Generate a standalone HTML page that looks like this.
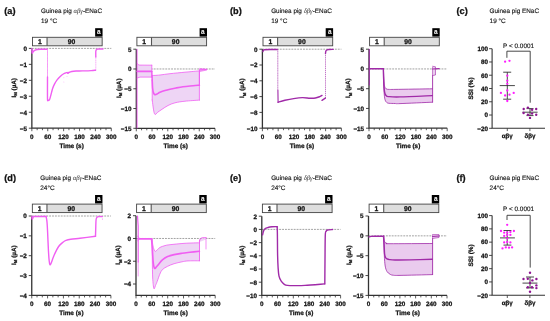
<!DOCTYPE html>
<html><head><meta charset="utf-8"><style>
html,body{margin:0;padding:0;background:#fff;}
svg{display:block;will-change:transform;}
text{font-family:"Liberation Sans", sans-serif;text-rendering:geometricPrecision;}
</style></head><body>
<svg width="550" height="321" viewBox="0 0 550 321" xmlns="http://www.w3.org/2000/svg">
<rect width="550" height="321" fill="#fff"/>
<text x="4.3" y="13.7" font-size="9.2" font-weight="bold" text-anchor="start" fill="#141414" stroke="#141414" stroke-width="0.26" >(a)</text>
<text x="41" y="13.2" font-size="6.35" fill="#141414" stroke="#141414" stroke-width="0.14">Guinea pig <tspan font-family="Liberation Serif" font-style="italic" font-size="6.7" fill="#484848" stroke="#484848" stroke-width="0.05">αβγ</tspan>-ENaC</text>
<text x="41" y="22.8" font-size="6.4" font-weight="normal" text-anchor="start" fill="#141414" stroke="#141414" stroke-width="0.14" >19 °C</text>
<text x="230" y="13.7" font-size="9.2" font-weight="bold" text-anchor="start" fill="#141414" stroke="#141414" stroke-width="0.26" >(b)</text>
<text x="271.2" y="13.2" font-size="6.35" fill="#141414" stroke="#141414" stroke-width="0.14">Guinea pig <tspan font-family="Liberation Serif" font-style="italic" font-size="6.7" fill="#484848" stroke="#484848" stroke-width="0.05">δβγ</tspan>-ENaC</text>
<text x="271.2" y="22.8" font-size="6.4" font-weight="normal" text-anchor="start" fill="#141414" stroke="#141414" stroke-width="0.14" >19 °C</text>
<text x="456.5" y="13.7" font-size="9.2" font-weight="bold" text-anchor="start" fill="#141414" stroke="#141414" stroke-width="0.26" >(c)</text>
<text x="489.6" y="13.2" font-size="6.35" fill="#141414" stroke="#141414" stroke-width="0.14">Guinea pig ENaC</text>
<text x="489.6" y="22.8" font-size="6.4" font-weight="normal" text-anchor="start" fill="#141414" stroke="#141414" stroke-width="0.14" >19 °C</text>
<text x="4.3" y="180.5" font-size="9.2" font-weight="bold" text-anchor="start" fill="#141414" stroke="#141414" stroke-width="0.26" >(d)</text>
<text x="40.3" y="180" font-size="6.35" fill="#141414" stroke="#141414" stroke-width="0.14">Guinea pig <tspan font-family="Liberation Serif" font-style="italic" font-size="6.7" fill="#484848" stroke="#484848" stroke-width="0.05">αβγ</tspan>-ENaC</text>
<text x="40.3" y="189.6" font-size="6.4" font-weight="normal" text-anchor="start" fill="#141414" stroke="#141414" stroke-width="0.14" >24°C</text>
<text x="230" y="180.5" font-size="9.2" font-weight="bold" text-anchor="start" fill="#141414" stroke="#141414" stroke-width="0.26" >(e)</text>
<text x="271.2" y="180" font-size="6.35" fill="#141414" stroke="#141414" stroke-width="0.14">Guinea pig <tspan font-family="Liberation Serif" font-style="italic" font-size="6.7" fill="#484848" stroke="#484848" stroke-width="0.05">δβγ</tspan>-ENaC</text>
<text x="271.2" y="189.6" font-size="6.4" font-weight="normal" text-anchor="start" fill="#141414" stroke="#141414" stroke-width="0.14" >24°C</text>
<text x="456.5" y="180.5" font-size="9.2" font-weight="bold" text-anchor="start" fill="#141414" stroke="#141414" stroke-width="0.26" >(f)</text>
<text x="489.6" y="180" font-size="6.35" fill="#141414" stroke="#141414" stroke-width="0.14">Guinea pig ENaC</text>
<text x="489.6" y="189.6" font-size="6.4" font-weight="normal" text-anchor="start" fill="#141414" stroke="#141414" stroke-width="0.14" >24°C</text>
<line x1="31.85" y1="48.4" x2="111.3" y2="48.4" stroke="#8c8c8c" stroke-width="0.8" stroke-dasharray="1.9,1.0"/>
<path d="M31.85,48.4 L31.85,128.2 L111.3,128.2" fill="none" stroke="#333333" stroke-width="1.3"/>
<line x1="28.85" y1="48.4" x2="31.85" y2="48.4" stroke="#333333" stroke-width="0.9"/>
<text x="26.95" y="50.7" font-size="6.3" font-weight="bold" text-anchor="end" fill="#141414" stroke="#141414" stroke-width="0.26" >0</text>
<line x1="28.85" y1="64.36" x2="31.85" y2="64.36" stroke="#333333" stroke-width="0.9"/>
<text x="26.95" y="66.66" font-size="6.3" font-weight="bold" text-anchor="end" fill="#141414" stroke="#141414" stroke-width="0.26" >−1</text>
<line x1="28.85" y1="80.32" x2="31.85" y2="80.32" stroke="#333333" stroke-width="0.9"/>
<text x="26.95" y="82.62" font-size="6.3" font-weight="bold" text-anchor="end" fill="#141414" stroke="#141414" stroke-width="0.26" >−2</text>
<line x1="28.85" y1="96.28" x2="31.85" y2="96.28" stroke="#333333" stroke-width="0.9"/>
<text x="26.95" y="98.58" font-size="6.3" font-weight="bold" text-anchor="end" fill="#141414" stroke="#141414" stroke-width="0.26" >−3</text>
<line x1="28.85" y1="112.24" x2="31.85" y2="112.24" stroke="#333333" stroke-width="0.9"/>
<text x="26.95" y="114.54" font-size="6.3" font-weight="bold" text-anchor="end" fill="#141414" stroke="#141414" stroke-width="0.26" >−4</text>
<line x1="28.85" y1="128.2" x2="31.85" y2="128.2" stroke="#333333" stroke-width="0.9"/>
<text x="26.95" y="130.5" font-size="6.3" font-weight="bold" text-anchor="end" fill="#141414" stroke="#141414" stroke-width="0.26" >−5</text>
<line x1="31.85" y1="128.2" x2="31.85" y2="131.2" stroke="#333333" stroke-width="0.8"/>
<text x="31.85" y="138.9" font-size="6.3" font-weight="bold" text-anchor="middle" fill="#141414" stroke="#141414" stroke-width="0.26" >0</text>
<line x1="37.15" y1="128.2" x2="37.15" y2="130.2" stroke="#333333" stroke-width="0.8"/>
<line x1="42.44" y1="128.2" x2="42.44" y2="130.2" stroke="#333333" stroke-width="0.8"/>
<line x1="47.74" y1="128.2" x2="47.74" y2="131.2" stroke="#333333" stroke-width="0.8"/>
<text x="47.74" y="138.9" font-size="6.3" font-weight="bold" text-anchor="middle" fill="#141414" stroke="#141414" stroke-width="0.26" >60</text>
<line x1="53.04" y1="128.2" x2="53.04" y2="130.2" stroke="#333333" stroke-width="0.8"/>
<line x1="58.33" y1="128.2" x2="58.33" y2="130.2" stroke="#333333" stroke-width="0.8"/>
<line x1="63.63" y1="128.2" x2="63.63" y2="131.2" stroke="#333333" stroke-width="0.8"/>
<text x="63.63" y="138.9" font-size="6.3" font-weight="bold" text-anchor="middle" fill="#141414" stroke="#141414" stroke-width="0.26" >120</text>
<line x1="68.93" y1="128.2" x2="68.93" y2="130.2" stroke="#333333" stroke-width="0.8"/>
<line x1="74.22" y1="128.2" x2="74.22" y2="130.2" stroke="#333333" stroke-width="0.8"/>
<line x1="79.52" y1="128.2" x2="79.52" y2="131.2" stroke="#333333" stroke-width="0.8"/>
<text x="79.52" y="138.9" font-size="6.3" font-weight="bold" text-anchor="middle" fill="#141414" stroke="#141414" stroke-width="0.26" >180</text>
<line x1="84.82" y1="128.2" x2="84.82" y2="130.2" stroke="#333333" stroke-width="0.8"/>
<line x1="90.11" y1="128.2" x2="90.11" y2="130.2" stroke="#333333" stroke-width="0.8"/>
<line x1="95.41" y1="128.2" x2="95.41" y2="131.2" stroke="#333333" stroke-width="0.8"/>
<text x="95.41" y="138.9" font-size="6.3" font-weight="bold" text-anchor="middle" fill="#141414" stroke="#141414" stroke-width="0.26" >240</text>
<line x1="100.71" y1="128.2" x2="100.71" y2="130.2" stroke="#333333" stroke-width="0.8"/>
<line x1="106" y1="128.2" x2="106" y2="130.2" stroke="#333333" stroke-width="0.8"/>
<line x1="111.3" y1="128.2" x2="111.3" y2="131.2" stroke="#333333" stroke-width="0.8"/>
<text x="111.3" y="138.9" font-size="6.3" font-weight="bold" text-anchor="middle" fill="#141414" stroke="#141414" stroke-width="0.26" >300</text>
<text x="71.58" y="147.7" font-size="6.4" font-weight="bold" text-anchor="middle" fill="#141414" stroke="#141414" stroke-width="0.26" >Time (s)</text>
<text transform="translate(15.9,87.8) rotate(-90)" font-size="6.3" font-weight="bold" text-anchor="middle" fill="#141414" stroke="#141414" stroke-width="0.26">I<tspan font-size="4.3" dy="1.3">M</tspan><tspan dy="-1.3"> (µA)</tspan></text>
<rect x="47.05" y="37.3" width="55.1" height="8.5" fill="#dedede"/>
<rect x="32.45" y="37.3" width="69.7" height="8.5" fill="none" stroke="#444" stroke-width="0.9"/>
<line x1="47.05" y1="37.3" x2="47.05" y2="45.8" stroke="#555" stroke-width="1.1"/>
<text x="39.8" y="43.95" font-size="6.8" font-weight="bold" text-anchor="middle" fill="#141414" stroke="#141414" stroke-width="0.26" >1</text>
<text x="71.57" y="43.95" font-size="6.8" font-weight="bold" text-anchor="middle" fill="#141414" stroke="#141414" stroke-width="0.26" >90</text>
<rect x="95.15" y="28.2" width="7.4" height="8.4" fill="#000"/>
<text x="97" y="34.4" font-size="6.6" font-weight="bold" text-anchor="start" fill="#fff" stroke="#fff" stroke-width="0.26" stroke-opacity="0" style="text-rendering:auto">a</text>
<path d="M31.9,48.6 C31.95,49.38 31.97,52.82 32.2,53.3 C32.43,53.78 32.88,51.98 33.3,51.5 C33.72,51.02 34,50.73 34.7,50.4 C35.4,50.07 36.45,49.68 37.5,49.5 C38.55,49.32 39.4,49.33 41,49.3 C42.6,49.27 46.08,49.3 47.1,49.3" fill="none" stroke="#f05ef2" stroke-width="1.4" stroke-linejoin="round" stroke-linecap="round" />
<path d="M47.5,49.6 L47.5,77" fill="none" stroke="#f05ef2" stroke-width="1.0" stroke-linejoin="round" stroke-linecap="round" stroke-dasharray="0.6,0.6" opacity="0.6" stroke-linecap="butt"/>
<path d="M47.5,77 C47.5,80.6 47.42,94.75 47.5,98.6 C47.58,102.45 47.8,99.8 48,100.1 C48.2,100.4 48.45,100.48 48.7,100.4 C48.95,100.32 49.25,100.07 49.5,99.6 C49.75,99.13 49.87,98.77 50.2,97.6 C50.53,96.43 51.08,94.15 51.5,92.6 C51.92,91.05 52.18,89.75 52.7,88.3 C53.22,86.85 53.87,85.3 54.6,83.9 C55.33,82.5 56.17,81.13 57.1,79.9 C58.03,78.67 59.17,77.48 60.2,76.5 C61.23,75.52 62.27,74.63 63.3,74 C64.33,73.37 65.73,72.95 66.4,72.7 C67.07,72.45 67.07,72.38 67.3,72.5 C67.53,72.62 67.62,73.32 67.8,73.4 C67.98,73.48 68.22,73.15 68.4,73 C68.58,72.85 68.33,72.75 68.9,72.5 C69.47,72.25 70.62,71.75 71.8,71.5 C72.98,71.25 74.23,71.1 76,71 C77.77,70.9 79.87,70.97 82.4,70.9 C84.93,70.83 89.02,70.72 91.2,70.6 C93.38,70.48 94.78,70.27 95.5,70.2" fill="none" stroke="#f05ef2" stroke-width="1.4" stroke-linejoin="round" stroke-linecap="round" />
<path d="M95.8,69.9 L95.8,57" fill="none" stroke="#f05ef2" stroke-width="0.8" stroke-linejoin="round" stroke-linecap="round" stroke-dasharray="0.6,1.2" opacity="0.6"/>
<path d="M95.8,57 C95.8,56.03 95.7,52.42 95.8,51.2 C95.9,49.98 96.13,50.05 96.4,49.7 C96.67,49.35 96.8,49.22 97.4,49.1 C98,48.98 99.07,49.02 100,49 C100.93,48.98 102.5,49 103,49" fill="none" stroke="#f05ef2" stroke-width="1.4" stroke-linejoin="round" stroke-linecap="round" />
<circle cx="63.9" cy="77.7" r="0.45" fill="#f05ef2" opacity="0.6"/>
<circle cx="63.9" cy="82" r="0.45" fill="#f05ef2" opacity="0.6"/>
<circle cx="67" cy="76.5" r="0.45" fill="#f05ef2" opacity="0.6"/>
<line x1="136.3" y1="68.98" x2="215" y2="68.98" stroke="#8c8c8c" stroke-width="0.8" stroke-dasharray="1.9,1.0"/>
<path d="M136.3,49.2 L136.3,128.3 L215,128.3" fill="none" stroke="#333333" stroke-width="1.3"/>
<line x1="133.3" y1="49.2" x2="136.3" y2="49.2" stroke="#333333" stroke-width="0.9"/>
<text x="131.4" y="51.5" font-size="6.3" font-weight="bold" text-anchor="end" fill="#141414" stroke="#141414" stroke-width="0.26" >5</text>
<line x1="133.3" y1="68.98" x2="136.3" y2="68.98" stroke="#333333" stroke-width="0.9"/>
<text x="131.4" y="71.28" font-size="6.3" font-weight="bold" text-anchor="end" fill="#141414" stroke="#141414" stroke-width="0.26" >0</text>
<line x1="133.3" y1="88.75" x2="136.3" y2="88.75" stroke="#333333" stroke-width="0.9"/>
<text x="131.4" y="91.05" font-size="6.3" font-weight="bold" text-anchor="end" fill="#141414" stroke="#141414" stroke-width="0.26" >−5</text>
<line x1="133.3" y1="108.53" x2="136.3" y2="108.53" stroke="#333333" stroke-width="0.9"/>
<text x="131.4" y="110.83" font-size="6.3" font-weight="bold" text-anchor="end" fill="#141414" stroke="#141414" stroke-width="0.26" >−10</text>
<line x1="133.3" y1="128.3" x2="136.3" y2="128.3" stroke="#333333" stroke-width="0.9"/>
<text x="131.4" y="130.6" font-size="6.3" font-weight="bold" text-anchor="end" fill="#141414" stroke="#141414" stroke-width="0.26" >−15</text>
<line x1="136.3" y1="128.3" x2="136.3" y2="131.3" stroke="#333333" stroke-width="0.8"/>
<text x="136.3" y="139" font-size="6.3" font-weight="bold" text-anchor="middle" fill="#141414" stroke="#141414" stroke-width="0.26" >0</text>
<line x1="141.55" y1="128.3" x2="141.55" y2="130.3" stroke="#333333" stroke-width="0.8"/>
<line x1="146.79" y1="128.3" x2="146.79" y2="130.3" stroke="#333333" stroke-width="0.8"/>
<line x1="152.04" y1="128.3" x2="152.04" y2="131.3" stroke="#333333" stroke-width="0.8"/>
<text x="152.04" y="139" font-size="6.3" font-weight="bold" text-anchor="middle" fill="#141414" stroke="#141414" stroke-width="0.26" >60</text>
<line x1="157.29" y1="128.3" x2="157.29" y2="130.3" stroke="#333333" stroke-width="0.8"/>
<line x1="162.53" y1="128.3" x2="162.53" y2="130.3" stroke="#333333" stroke-width="0.8"/>
<line x1="167.78" y1="128.3" x2="167.78" y2="131.3" stroke="#333333" stroke-width="0.8"/>
<text x="167.78" y="139" font-size="6.3" font-weight="bold" text-anchor="middle" fill="#141414" stroke="#141414" stroke-width="0.26" >120</text>
<line x1="173.03" y1="128.3" x2="173.03" y2="130.3" stroke="#333333" stroke-width="0.8"/>
<line x1="178.27" y1="128.3" x2="178.27" y2="130.3" stroke="#333333" stroke-width="0.8"/>
<line x1="183.52" y1="128.3" x2="183.52" y2="131.3" stroke="#333333" stroke-width="0.8"/>
<text x="183.52" y="139" font-size="6.3" font-weight="bold" text-anchor="middle" fill="#141414" stroke="#141414" stroke-width="0.26" >180</text>
<line x1="188.77" y1="128.3" x2="188.77" y2="130.3" stroke="#333333" stroke-width="0.8"/>
<line x1="194.01" y1="128.3" x2="194.01" y2="130.3" stroke="#333333" stroke-width="0.8"/>
<line x1="199.26" y1="128.3" x2="199.26" y2="131.3" stroke="#333333" stroke-width="0.8"/>
<text x="199.26" y="139" font-size="6.3" font-weight="bold" text-anchor="middle" fill="#141414" stroke="#141414" stroke-width="0.26" >240</text>
<line x1="204.51" y1="128.3" x2="204.51" y2="130.3" stroke="#333333" stroke-width="0.8"/>
<line x1="209.75" y1="128.3" x2="209.75" y2="130.3" stroke="#333333" stroke-width="0.8"/>
<line x1="215" y1="128.3" x2="215" y2="131.3" stroke="#333333" stroke-width="0.8"/>
<text x="215" y="139" font-size="6.3" font-weight="bold" text-anchor="middle" fill="#141414" stroke="#141414" stroke-width="0.26" >300</text>
<text x="175.65" y="147.8" font-size="6.4" font-weight="bold" text-anchor="middle" fill="#141414" stroke="#141414" stroke-width="0.26" >Time (s)</text>
<text transform="translate(120.7,88.25) rotate(-90)" font-size="6.3" font-weight="bold" text-anchor="middle" fill="#141414" stroke="#141414" stroke-width="0.26">I<tspan font-size="4.3" dy="1.3">M</tspan><tspan dy="-1.3"> (µA)</tspan></text>
<rect x="151.5" y="37.3" width="55.1" height="8.5" fill="#dedede"/>
<rect x="136.9" y="37.3" width="69.7" height="8.5" fill="none" stroke="#444" stroke-width="0.9"/>
<line x1="151.5" y1="37.3" x2="151.5" y2="45.8" stroke="#555" stroke-width="1.1"/>
<text x="144.17" y="43.95" font-size="6.8" font-weight="bold" text-anchor="middle" fill="#141414" stroke="#141414" stroke-width="0.26" >1</text>
<text x="175.65" y="43.95" font-size="6.8" font-weight="bold" text-anchor="middle" fill="#141414" stroke="#141414" stroke-width="0.26" >90</text>
<rect x="199.6" y="28.2" width="7.4" height="8.4" fill="#000"/>
<text x="201" y="34.4" font-size="6.6" font-weight="bold" text-anchor="start" fill="#fff" stroke="#fff" stroke-width="0.26" stroke-opacity="0" style="text-rendering:auto">a</text>
<path d="M137.2,63.7 C137.5,63.93 136.57,64.85 139,65.1 C141.43,65.35 149.67,65.18 151.8,65.2 L151.8,77.1 C149.83,77.1 142.43,76.95 140,77.1 C137.57,77.25 137.67,77.85 137.2,78 Z" fill="#eed5f5" stroke="none"/>
<path d="M152.2,75.5 C152.67,75.48 153.7,75.48 155,75.4 C156.3,75.32 157.5,75.28 160,75 C162.5,74.72 165.83,74.17 170,73.7 C174.17,73.23 180.1,72.67 185,72.2 C189.9,71.73 197,71.12 199.4,70.9 L199.4,100.1 C197,100.28 189.07,100.75 185,101.2 C180.93,101.65 177.83,102.08 175,102.8 C172.17,103.52 170.17,104.42 168,105.5 C165.83,106.58 163.67,108.22 162,109.3 C160.33,110.38 159.25,111.25 158,112 C156.75,112.75 155.47,115.8 154.5,113.8 C153.53,111.8 152.58,102.3 152.2,100 Z" fill="#eed5f5" stroke="none"/>
<path d="M199.6,68.4 L207,69.2 L207,70 L199.6,71.6 Z" fill="#efb8f2" stroke="none"/>
<path d="M199.6,68.4 L207,69.2 L207,70 L199.6,71.6" fill="none" stroke="#f05ef2" stroke-width="0.6" stroke-linejoin="round" stroke-linecap="round" />
<path d="M137.2,63.7 L139,65.1 L151.8,65.2" fill="none" stroke="#f05ef2" stroke-width="0.8" stroke-linejoin="round" stroke-linecap="round" />
<path d="M137.2,78 L140,77.1 L151.8,77.1" fill="none" stroke="#f05ef2" stroke-width="0.8" stroke-linejoin="round" stroke-linecap="round" />
<path d="M152.2,75.5 C152.67,75.48 153.7,75.48 155,75.4 C156.3,75.32 157.5,75.28 160,75 C162.5,74.72 165.83,74.17 170,73.7 C174.17,73.23 180.1,72.67 185,72.2 C189.9,71.73 197,71.12 199.4,70.9" fill="none" stroke="#f05ef2" stroke-width="0.8" stroke-linejoin="round" stroke-linecap="round" />
<path d="M152.2,100 C152.58,102.3 153.53,111.8 154.5,113.8 C155.47,115.8 156.75,112.75 158,112 C159.25,111.25 160.33,110.38 162,109.3 C163.67,108.22 165.83,106.58 168,105.5 C170.17,104.42 172.17,103.52 175,102.8 C177.83,102.08 180.93,101.65 185,101.2 C189.07,100.75 197,100.28 199.4,100.1" fill="none" stroke="#f05ef2" stroke-width="0.8" stroke-linejoin="round" stroke-linecap="round" />
<path d="M151.8,65.2 L151.8,77.1" fill="none" stroke="#f05ef2" stroke-width="0.8" stroke-linejoin="round" stroke-linecap="round" />
<path d="M152.2,75.5 L152.2,100" fill="none" stroke="#f05ef2" stroke-width="0.8" stroke-linejoin="round" stroke-linecap="round" />
<path d="M199.4,70.9 L199.4,100.1" fill="none" stroke="#f05ef2" stroke-width="0.8" stroke-linejoin="round" stroke-linecap="round" />
<path d="M137.2,71.4 L151.8,71.4" fill="none" stroke="#f05ef2" stroke-width="1.6" stroke-linejoin="round" stroke-linecap="round" />
<path d="M151.8,71.4 L152.2,80" fill="none" stroke="#f05ef2" stroke-width="1.2" stroke-linejoin="round" stroke-linecap="round" />
<path d="M152.2,80 C152.27,81.33 152.4,85.9 152.6,88 C152.8,90.1 153.07,91.52 153.4,92.6 C153.73,93.68 154.17,94.2 154.6,94.5 C155.03,94.8 155.43,94.58 156,94.4 C156.57,94.22 157.33,93.75 158,93.4 C158.67,93.05 158.83,92.78 160,92.3 C161.17,91.82 163.33,91.02 165,90.5 C166.67,89.98 168.17,89.62 170,89.2 C171.83,88.78 173.83,88.4 176,88 C178.17,87.6 180.67,87.13 183,86.8 C185.33,86.47 187.27,86.27 190,86 C192.73,85.73 197.83,85.33 199.4,85.2" fill="none" stroke="#f05ef2" stroke-width="1.6" stroke-linejoin="round" stroke-linecap="round" />
<path d="M199.4,85.2 L199.4,70" fill="none" stroke="#f05ef2" stroke-width="1.0" stroke-linejoin="round" stroke-linecap="round" />
<path d="M199.6,69.9 L206.5,69.5" fill="none" stroke="#f05ef2" stroke-width="1.2" stroke-linejoin="round" stroke-linecap="round" />
<path d="M137.1,49.3 L137.1,128" fill="none" stroke="#f060f0" stroke-width="0.9" stroke-linejoin="round" stroke-linecap="round" />
<line x1="262.4" y1="49.2" x2="341.4" y2="49.2" stroke="#8c8c8c" stroke-width="0.8" stroke-dasharray="1.9,1.0"/>
<path d="M262.4,49.2 L262.4,128.2 L341.4,128.2" fill="none" stroke="#333333" stroke-width="1.3"/>
<line x1="259.4" y1="49.2" x2="262.4" y2="49.2" stroke="#333333" stroke-width="0.9"/>
<text x="257.5" y="51.5" font-size="6.3" font-weight="bold" text-anchor="end" fill="#141414" stroke="#141414" stroke-width="0.26" >0</text>
<line x1="259.4" y1="65" x2="262.4" y2="65" stroke="#333333" stroke-width="0.9"/>
<text x="257.5" y="67.3" font-size="6.3" font-weight="bold" text-anchor="end" fill="#141414" stroke="#141414" stroke-width="0.26" >−2</text>
<line x1="259.4" y1="80.8" x2="262.4" y2="80.8" stroke="#333333" stroke-width="0.9"/>
<text x="257.5" y="83.1" font-size="6.3" font-weight="bold" text-anchor="end" fill="#141414" stroke="#141414" stroke-width="0.26" >−4</text>
<line x1="259.4" y1="96.6" x2="262.4" y2="96.6" stroke="#333333" stroke-width="0.9"/>
<text x="257.5" y="98.9" font-size="6.3" font-weight="bold" text-anchor="end" fill="#141414" stroke="#141414" stroke-width="0.26" >−6</text>
<line x1="259.4" y1="112.4" x2="262.4" y2="112.4" stroke="#333333" stroke-width="0.9"/>
<text x="257.5" y="114.7" font-size="6.3" font-weight="bold" text-anchor="end" fill="#141414" stroke="#141414" stroke-width="0.26" >−8</text>
<line x1="259.4" y1="128.2" x2="262.4" y2="128.2" stroke="#333333" stroke-width="0.9"/>
<text x="257.5" y="130.5" font-size="6.3" font-weight="bold" text-anchor="end" fill="#141414" stroke="#141414" stroke-width="0.26" >−10</text>
<line x1="262.4" y1="128.2" x2="262.4" y2="131.2" stroke="#333333" stroke-width="0.8"/>
<text x="262.4" y="138.9" font-size="6.3" font-weight="bold" text-anchor="middle" fill="#141414" stroke="#141414" stroke-width="0.26" >0</text>
<line x1="267.67" y1="128.2" x2="267.67" y2="130.2" stroke="#333333" stroke-width="0.8"/>
<line x1="272.93" y1="128.2" x2="272.93" y2="130.2" stroke="#333333" stroke-width="0.8"/>
<line x1="278.2" y1="128.2" x2="278.2" y2="131.2" stroke="#333333" stroke-width="0.8"/>
<text x="278.2" y="138.9" font-size="6.3" font-weight="bold" text-anchor="middle" fill="#141414" stroke="#141414" stroke-width="0.26" >60</text>
<line x1="283.47" y1="128.2" x2="283.47" y2="130.2" stroke="#333333" stroke-width="0.8"/>
<line x1="288.73" y1="128.2" x2="288.73" y2="130.2" stroke="#333333" stroke-width="0.8"/>
<line x1="294" y1="128.2" x2="294" y2="131.2" stroke="#333333" stroke-width="0.8"/>
<text x="294" y="138.9" font-size="6.3" font-weight="bold" text-anchor="middle" fill="#141414" stroke="#141414" stroke-width="0.26" >120</text>
<line x1="299.27" y1="128.2" x2="299.27" y2="130.2" stroke="#333333" stroke-width="0.8"/>
<line x1="304.53" y1="128.2" x2="304.53" y2="130.2" stroke="#333333" stroke-width="0.8"/>
<line x1="309.8" y1="128.2" x2="309.8" y2="131.2" stroke="#333333" stroke-width="0.8"/>
<text x="309.8" y="138.9" font-size="6.3" font-weight="bold" text-anchor="middle" fill="#141414" stroke="#141414" stroke-width="0.26" >180</text>
<line x1="315.07" y1="128.2" x2="315.07" y2="130.2" stroke="#333333" stroke-width="0.8"/>
<line x1="320.33" y1="128.2" x2="320.33" y2="130.2" stroke="#333333" stroke-width="0.8"/>
<line x1="325.6" y1="128.2" x2="325.6" y2="131.2" stroke="#333333" stroke-width="0.8"/>
<text x="325.6" y="138.9" font-size="6.3" font-weight="bold" text-anchor="middle" fill="#141414" stroke="#141414" stroke-width="0.26" >240</text>
<line x1="330.87" y1="128.2" x2="330.87" y2="130.2" stroke="#333333" stroke-width="0.8"/>
<line x1="336.13" y1="128.2" x2="336.13" y2="130.2" stroke="#333333" stroke-width="0.8"/>
<line x1="341.4" y1="128.2" x2="341.4" y2="131.2" stroke="#333333" stroke-width="0.8"/>
<text x="341.4" y="138.9" font-size="6.3" font-weight="bold" text-anchor="middle" fill="#141414" stroke="#141414" stroke-width="0.26" >300</text>
<text x="301.9" y="147.7" font-size="6.4" font-weight="bold" text-anchor="middle" fill="#141414" stroke="#141414" stroke-width="0.26" >Time (s)</text>
<text transform="translate(244.3,88.2) rotate(-90)" font-size="6.3" font-weight="bold" text-anchor="middle" fill="#141414" stroke="#141414" stroke-width="0.26">I<tspan font-size="4.3" dy="1.3">M</tspan><tspan dy="-1.3"> (µA)</tspan></text>
<rect x="277.6" y="37.3" width="55.1" height="8.5" fill="#dedede"/>
<rect x="263" y="37.3" width="69.7" height="8.5" fill="none" stroke="#444" stroke-width="0.9"/>
<line x1="277.6" y1="37.3" x2="277.6" y2="45.8" stroke="#555" stroke-width="1.1"/>
<text x="270.3" y="43.95" font-size="6.8" font-weight="bold" text-anchor="middle" fill="#141414" stroke="#141414" stroke-width="0.26" >1</text>
<text x="301.9" y="43.95" font-size="6.8" font-weight="bold" text-anchor="middle" fill="#141414" stroke="#141414" stroke-width="0.26" >90</text>
<rect x="325.7" y="28.2" width="7.4" height="8.4" fill="#000"/>
<text x="328" y="34.4" font-size="6.6" font-weight="bold" text-anchor="start" fill="#fff" stroke="#fff" stroke-width="0.26" stroke-opacity="0" style="text-rendering:auto">a</text>
<path d="M262.9,51.6 C263,51.38 263.23,50.62 263.5,50.3 C263.77,49.98 263.42,49.84 264.5,49.7 C265.58,49.56 267.88,49.49 270,49.45 C272.12,49.41 276,49.45 277.2,49.45" fill="none" stroke="#a02aa8" stroke-width="1.4" stroke-linejoin="round" stroke-linecap="round" />
<path d="M277.8,49.6 L277.8,90" fill="none" stroke="#a02aa8" stroke-width="0.8" stroke-linejoin="round" stroke-linecap="round" stroke-dasharray="0.6,1.1" opacity="0.75" stroke-linecap="butt"/>
<path d="M277.9,90 L278.1,102.3" fill="none" stroke="#a02aa8" stroke-width="1.1" stroke-linejoin="round" stroke-linecap="round" />
<path d="M278.1,102.3 C278.23,102.23 277.77,102.23 278.9,101.9 C280.03,101.57 282.45,100.85 284.9,100.3 C287.35,99.75 290.68,99.05 293.6,98.6 C296.52,98.15 299.67,97.67 302.4,97.6 C305.13,97.53 307.83,98.13 310,98.2 C312.17,98.27 313.77,98.27 315.4,98 C317.03,97.73 318.7,97.03 319.8,96.6 C320.9,96.17 321.63,95.6 322,95.4" fill="none" stroke="#a02aa8" stroke-width="1.4" stroke-linejoin="round" stroke-linecap="round" />
<path d="M322,100.3 L325.3,98.1" fill="none" stroke="#a02aa8" stroke-width="1.4" stroke-linejoin="round" stroke-linecap="round" />
<path d="M325.5,98 L325.5,53" fill="none" stroke="#a02aa8" stroke-width="0.8" stroke-linejoin="round" stroke-linecap="round" stroke-dasharray="0.6,1.5" opacity="0.8"/>
<path d="M325.5,53.5 C325.57,53.08 325.65,51.62 325.9,51 C326.15,50.38 326.48,50.06 327,49.8 C327.52,49.54 327.97,49.53 329,49.45 C330.03,49.38 332.5,49.37 333.2,49.35" fill="none" stroke="#a02aa8" stroke-width="1.4" stroke-linejoin="round" stroke-linecap="round" />
<line x1="369" y1="68.95" x2="447.2" y2="68.95" stroke="#8c8c8c" stroke-width="0.8" stroke-dasharray="1.9,1.0"/>
<path d="M369,49.2 L369,128.2 L447.2,128.2" fill="none" stroke="#333333" stroke-width="1.3"/>
<line x1="366" y1="49.2" x2="369" y2="49.2" stroke="#333333" stroke-width="0.9"/>
<text x="364.1" y="51.5" font-size="6.3" font-weight="bold" text-anchor="end" fill="#141414" stroke="#141414" stroke-width="0.26" >5</text>
<line x1="366" y1="68.95" x2="369" y2="68.95" stroke="#333333" stroke-width="0.9"/>
<text x="364.1" y="71.25" font-size="6.3" font-weight="bold" text-anchor="end" fill="#141414" stroke="#141414" stroke-width="0.26" >0</text>
<line x1="366" y1="88.7" x2="369" y2="88.7" stroke="#333333" stroke-width="0.9"/>
<text x="364.1" y="91" font-size="6.3" font-weight="bold" text-anchor="end" fill="#141414" stroke="#141414" stroke-width="0.26" >−5</text>
<line x1="366" y1="108.45" x2="369" y2="108.45" stroke="#333333" stroke-width="0.9"/>
<text x="364.1" y="110.75" font-size="6.3" font-weight="bold" text-anchor="end" fill="#141414" stroke="#141414" stroke-width="0.26" >−10</text>
<line x1="366" y1="128.2" x2="369" y2="128.2" stroke="#333333" stroke-width="0.9"/>
<text x="364.1" y="130.5" font-size="6.3" font-weight="bold" text-anchor="end" fill="#141414" stroke="#141414" stroke-width="0.26" >−15</text>
<line x1="369" y1="128.2" x2="369" y2="131.2" stroke="#333333" stroke-width="0.8"/>
<text x="369" y="138.9" font-size="6.3" font-weight="bold" text-anchor="middle" fill="#141414" stroke="#141414" stroke-width="0.26" >0</text>
<line x1="374.21" y1="128.2" x2="374.21" y2="130.2" stroke="#333333" stroke-width="0.8"/>
<line x1="379.43" y1="128.2" x2="379.43" y2="130.2" stroke="#333333" stroke-width="0.8"/>
<line x1="384.64" y1="128.2" x2="384.64" y2="131.2" stroke="#333333" stroke-width="0.8"/>
<text x="384.64" y="138.9" font-size="6.3" font-weight="bold" text-anchor="middle" fill="#141414" stroke="#141414" stroke-width="0.26" >60</text>
<line x1="389.85" y1="128.2" x2="389.85" y2="130.2" stroke="#333333" stroke-width="0.8"/>
<line x1="395.07" y1="128.2" x2="395.07" y2="130.2" stroke="#333333" stroke-width="0.8"/>
<line x1="400.28" y1="128.2" x2="400.28" y2="131.2" stroke="#333333" stroke-width="0.8"/>
<text x="400.28" y="138.9" font-size="6.3" font-weight="bold" text-anchor="middle" fill="#141414" stroke="#141414" stroke-width="0.26" >120</text>
<line x1="405.49" y1="128.2" x2="405.49" y2="130.2" stroke="#333333" stroke-width="0.8"/>
<line x1="410.71" y1="128.2" x2="410.71" y2="130.2" stroke="#333333" stroke-width="0.8"/>
<line x1="415.92" y1="128.2" x2="415.92" y2="131.2" stroke="#333333" stroke-width="0.8"/>
<text x="415.92" y="138.9" font-size="6.3" font-weight="bold" text-anchor="middle" fill="#141414" stroke="#141414" stroke-width="0.26" >180</text>
<line x1="421.13" y1="128.2" x2="421.13" y2="130.2" stroke="#333333" stroke-width="0.8"/>
<line x1="426.35" y1="128.2" x2="426.35" y2="130.2" stroke="#333333" stroke-width="0.8"/>
<line x1="431.56" y1="128.2" x2="431.56" y2="131.2" stroke="#333333" stroke-width="0.8"/>
<text x="431.56" y="138.9" font-size="6.3" font-weight="bold" text-anchor="middle" fill="#141414" stroke="#141414" stroke-width="0.26" >240</text>
<line x1="436.77" y1="128.2" x2="436.77" y2="130.2" stroke="#333333" stroke-width="0.8"/>
<line x1="441.99" y1="128.2" x2="441.99" y2="130.2" stroke="#333333" stroke-width="0.8"/>
<line x1="447.2" y1="128.2" x2="447.2" y2="131.2" stroke="#333333" stroke-width="0.8"/>
<text x="447.2" y="138.9" font-size="6.3" font-weight="bold" text-anchor="middle" fill="#141414" stroke="#141414" stroke-width="0.26" >300</text>
<text x="408.1" y="147.7" font-size="6.4" font-weight="bold" text-anchor="middle" fill="#141414" stroke="#141414" stroke-width="0.26" >Time (s)</text>
<text transform="translate(350.4,88.2) rotate(-90)" font-size="6.3" font-weight="bold" text-anchor="middle" fill="#141414" stroke="#141414" stroke-width="0.26">I<tspan font-size="4.3" dy="1.3">M</tspan><tspan dy="-1.3"> (µA)</tspan></text>
<rect x="384.2" y="37.3" width="55.1" height="8.5" fill="#dedede"/>
<rect x="369.6" y="37.3" width="69.7" height="8.5" fill="none" stroke="#444" stroke-width="0.9"/>
<line x1="384.2" y1="37.3" x2="384.2" y2="45.8" stroke="#555" stroke-width="1.1"/>
<text x="376.82" y="43.95" font-size="6.8" font-weight="bold" text-anchor="middle" fill="#141414" stroke="#141414" stroke-width="0.26" >1</text>
<text x="408.1" y="43.95" font-size="6.8" font-weight="bold" text-anchor="middle" fill="#141414" stroke="#141414" stroke-width="0.26" >90</text>
<rect x="432.3" y="28.2" width="7.4" height="8.4" fill="#000"/>
<text x="434" y="34.4" font-size="6.6" font-weight="bold" text-anchor="start" fill="#fff" stroke="#fff" stroke-width="0.26" stroke-opacity="0" style="text-rendering:auto">a</text>
<path d="M383.5,68.7 C383.53,70.25 383.58,75.37 383.7,78 C383.82,80.63 383.95,82.87 384.2,84.5 C384.45,86.13 384.77,87.03 385.2,87.8 C385.63,88.57 386.17,88.83 386.8,89.1 C387.43,89.37 387.63,89.35 389,89.4 C390.37,89.45 387.77,89.5 395,89.4 C402.23,89.3 426.17,88.9 432.4,88.8 L432.4,102.2 C427,102.43 406.23,103.38 400,103.6 C393.77,103.82 396.83,103.55 395,103.5 C393.17,103.45 390.37,103.47 389,103.3 C387.63,103.13 387.43,103.02 386.8,102.5 C386.17,101.98 385.62,101.45 385.2,100.2 C384.78,98.95 384.53,97.53 384.3,95 C384.07,92.47 383.93,89.38 383.8,85 C383.67,80.62 383.55,71.42 383.5,68.7 Z" fill="#eacbee" stroke="none"/>
<path d="M383.5,68.7 C383.53,70.25 383.58,75.37 383.7,78 C383.82,80.63 383.95,82.87 384.2,84.5 C384.45,86.13 384.77,87.03 385.2,87.8 C385.63,88.57 386.17,88.83 386.8,89.1 C387.43,89.37 387.63,89.35 389,89.4 C390.37,89.45 387.77,89.5 395,89.4 C402.23,89.3 426.17,88.9 432.4,88.8" fill="none" stroke="#a02aa8" stroke-width="0.8" stroke-linejoin="round" stroke-linecap="round" />
<path d="M383.5,68.7 C383.55,71.42 383.67,80.62 383.8,85 C383.93,89.38 384.07,92.47 384.3,95 C384.53,97.53 384.78,98.95 385.2,100.2 C385.62,101.45 386.17,101.98 386.8,102.5 C387.43,103.02 387.63,103.13 389,103.3 C390.37,103.47 393.17,103.45 395,103.5 C396.83,103.55 393.77,103.82 400,103.6 C406.23,103.38 427,102.43 432.4,102.2" fill="none" stroke="#a02aa8" stroke-width="0.8" stroke-linejoin="round" stroke-linecap="round" />
<path d="M369.2,68.7 L383.3,68.7" fill="none" stroke="#a02aa8" stroke-width="1.4" stroke-linejoin="round" stroke-linecap="round" />
<path d="M383.3,68.7 C383.35,70.25 383.47,74.78 383.6,78 C383.73,81.22 383.88,85.42 384.1,88 C384.32,90.58 384.53,92.2 384.9,93.5 C385.27,94.8 385.7,95.28 386.3,95.8 C386.9,96.32 386.22,96.42 388.5,96.6 C390.78,96.78 392.68,97.07 400,96.9 C407.32,96.73 427,95.82 432.4,95.6" fill="none" stroke="#a02aa8" stroke-width="1.4" stroke-linejoin="round" stroke-linecap="round" />
<path d="M432.6,102.2 L432.6,67.5" fill="none" stroke="#a02aa8" stroke-width="0.9" stroke-linejoin="round" stroke-linecap="round" />
<path d="M432.6,66.3 L435.5,66.8 L435.5,75 L432.6,75.5 Z" fill="#eacbee" stroke="none"/>
<path d="M432.6,66.3 L435.5,66.8 L435.5,75 L432.6,75.5" fill="none" stroke="#a02aa8" stroke-width="0.6" stroke-linejoin="round" stroke-linecap="round" />
<path d="M432.6,69 L439.1,68.7" fill="none" stroke="#a02aa8" stroke-width="1.2" stroke-linejoin="round" stroke-linecap="round" />
<path d="M369.3,49.3 L369.3,85" fill="none" stroke="#a02aa8" stroke-width="1.0" stroke-linejoin="round" stroke-linecap="round" />
<path d="M492.1,48.7 L492.1,128.3 L545,128.3" fill="none" stroke="#333333" stroke-width="1.1"/>
<line x1="489.1" y1="48.7" x2="492.1" y2="48.7" stroke="#333333" stroke-width="0.9"/>
<text x="487.9" y="51" font-size="6.3" font-weight="bold" text-anchor="end" fill="#141414" stroke="#141414" stroke-width="0.26" >100</text>
<line x1="489.1" y1="61.97" x2="492.1" y2="61.97" stroke="#333333" stroke-width="0.9"/>
<text x="487.9" y="64.27" font-size="6.3" font-weight="bold" text-anchor="end" fill="#141414" stroke="#141414" stroke-width="0.26" >80</text>
<line x1="489.1" y1="75.23" x2="492.1" y2="75.23" stroke="#333333" stroke-width="0.9"/>
<text x="487.9" y="77.53" font-size="6.3" font-weight="bold" text-anchor="end" fill="#141414" stroke="#141414" stroke-width="0.26" >60</text>
<line x1="489.1" y1="88.5" x2="492.1" y2="88.5" stroke="#333333" stroke-width="0.9"/>
<text x="487.9" y="90.8" font-size="6.3" font-weight="bold" text-anchor="end" fill="#141414" stroke="#141414" stroke-width="0.26" >40</text>
<line x1="489.1" y1="101.77" x2="492.1" y2="101.77" stroke="#333333" stroke-width="0.9"/>
<text x="487.9" y="104.07" font-size="6.3" font-weight="bold" text-anchor="end" fill="#141414" stroke="#141414" stroke-width="0.26" >20</text>
<line x1="489.1" y1="115.03" x2="492.1" y2="115.03" stroke="#333333" stroke-width="0.9"/>
<text x="487.9" y="117.33" font-size="6.3" font-weight="bold" text-anchor="end" fill="#141414" stroke="#141414" stroke-width="0.26" >0</text>
<line x1="489.1" y1="128.3" x2="492.1" y2="128.3" stroke="#333333" stroke-width="0.9"/>
<text x="487.9" y="130.6" font-size="6.3" font-weight="bold" text-anchor="end" fill="#141414" stroke="#141414" stroke-width="0.26" >−20</text>
<line x1="507.3" y1="128.3" x2="507.3" y2="131.1" stroke="#333333" stroke-width="0.8"/>
<line x1="529.9" y1="128.3" x2="529.9" y2="131.1" stroke="#333333" stroke-width="0.8"/>
<text x="507.3" y="138.1" font-size="6.2" font-weight="bold" text-anchor="middle" fill="#141414" stroke="#141414" stroke-width="0.26" >αβγ</text>
<text x="529.9" y="138.1" font-size="6.2" font-weight="bold" text-anchor="middle" fill="#141414" stroke="#141414" stroke-width="0.26" >δβγ</text>
<text transform="translate(473.4,88.5) rotate(-90)" font-size="6.4" font-weight="bold" text-anchor="middle" fill="#141414" stroke="#141414" stroke-width="0.26">SSI (%)</text>
<text x="518.6" y="47.8" font-size="6.4" font-weight="normal" text-anchor="middle" fill="#141414" stroke="#141414" stroke-width="0.14" >P &lt; 0.0001</text>
<path d="M506.9,57.8 L506.9,51.2 L530.2,51.2 L530.2,102.7" fill="none" stroke="#333333" stroke-width="0.9"/>
<path d="M507.3,72.2 L507.3,99.2 M503.2,72.2 L511.2,72.2 M503.2,99.2 L511.2,99.2 M499.7,85.6 L514.9,85.6" fill="none" stroke="#333333" stroke-width="0.9"/>
<circle cx="505.1" cy="61.7" r="1.15" fill="#ff1eff"/>
<circle cx="509.5" cy="60.8" r="1.15" fill="#ff1eff"/>
<circle cx="507.3" cy="75.7" r="1.15" fill="#ff1eff"/>
<circle cx="507.3" cy="80.7" r="1.15" fill="#ff1eff"/>
<circle cx="507.3" cy="83.8" r="1.15" fill="#ff1eff"/>
<circle cx="500.9" cy="92.9" r="1.15" fill="#ff1eff"/>
<circle cx="513.7" cy="92.9" r="1.15" fill="#ff1eff"/>
<circle cx="507.3" cy="90.5" r="1.15" fill="#ff1eff"/>
<circle cx="505.1" cy="95.5" r="1.15" fill="#ff1eff"/>
<circle cx="509.5" cy="94.7" r="1.15" fill="#ff1eff"/>
<circle cx="507.3" cy="101" r="1.15" fill="#ff1eff"/>
<path d="M530,108.6 L530,115.6 M526.5,108.6 L533.5,108.6 M526.5,115.6 L533.5,115.6 M522.4,112.2 L537.6,112.2" fill="none" stroke="#333333" stroke-width="0.9"/>
<circle cx="523.7" cy="109" r="1.2" fill="#8e1592"/>
<circle cx="527.9" cy="107.6" r="1.2" fill="#8e1592"/>
<circle cx="532.1" cy="109.7" r="1.2" fill="#8e1592"/>
<circle cx="536.2" cy="109" r="1.2" fill="#8e1592"/>
<circle cx="523.6" cy="113" r="1.2" fill="#8e1592"/>
<circle cx="527.9" cy="114.7" r="1.2" fill="#8e1592"/>
<circle cx="532.1" cy="113.6" r="1.2" fill="#8e1592"/>
<circle cx="536.2" cy="114.8" r="1.2" fill="#8e1592"/>
<circle cx="530" cy="117.9" r="1.2" fill="#8e1592"/>
<line x1="31.75" y1="216" x2="110.9" y2="216" stroke="#8c8c8c" stroke-width="0.8" stroke-dasharray="1.9,1.0"/>
<path d="M31.75,216 L31.75,295.4 L110.9,295.4" fill="none" stroke="#333333" stroke-width="1.3"/>
<line x1="28.75" y1="216" x2="31.75" y2="216" stroke="#333333" stroke-width="0.9"/>
<text x="26.85" y="218.3" font-size="6.3" font-weight="bold" text-anchor="end" fill="#141414" stroke="#141414" stroke-width="0.26" >0</text>
<line x1="28.75" y1="235.85" x2="31.75" y2="235.85" stroke="#333333" stroke-width="0.9"/>
<text x="26.85" y="238.15" font-size="6.3" font-weight="bold" text-anchor="end" fill="#141414" stroke="#141414" stroke-width="0.26" >−1</text>
<line x1="28.75" y1="255.7" x2="31.75" y2="255.7" stroke="#333333" stroke-width="0.9"/>
<text x="26.85" y="258" font-size="6.3" font-weight="bold" text-anchor="end" fill="#141414" stroke="#141414" stroke-width="0.26" >−2</text>
<line x1="28.75" y1="275.55" x2="31.75" y2="275.55" stroke="#333333" stroke-width="0.9"/>
<text x="26.85" y="277.85" font-size="6.3" font-weight="bold" text-anchor="end" fill="#141414" stroke="#141414" stroke-width="0.26" >−3</text>
<line x1="28.75" y1="295.4" x2="31.75" y2="295.4" stroke="#333333" stroke-width="0.9"/>
<text x="26.85" y="297.7" font-size="6.3" font-weight="bold" text-anchor="end" fill="#141414" stroke="#141414" stroke-width="0.26" >−4</text>
<line x1="31.75" y1="295.4" x2="31.75" y2="298.4" stroke="#333333" stroke-width="0.8"/>
<text x="31.75" y="306.1" font-size="6.3" font-weight="bold" text-anchor="middle" fill="#141414" stroke="#141414" stroke-width="0.26" >0</text>
<line x1="37.03" y1="295.4" x2="37.03" y2="297.4" stroke="#333333" stroke-width="0.8"/>
<line x1="42.3" y1="295.4" x2="42.3" y2="297.4" stroke="#333333" stroke-width="0.8"/>
<line x1="47.58" y1="295.4" x2="47.58" y2="298.4" stroke="#333333" stroke-width="0.8"/>
<text x="47.58" y="306.1" font-size="6.3" font-weight="bold" text-anchor="middle" fill="#141414" stroke="#141414" stroke-width="0.26" >60</text>
<line x1="52.86" y1="295.4" x2="52.86" y2="297.4" stroke="#333333" stroke-width="0.8"/>
<line x1="58.13" y1="295.4" x2="58.13" y2="297.4" stroke="#333333" stroke-width="0.8"/>
<line x1="63.41" y1="295.4" x2="63.41" y2="298.4" stroke="#333333" stroke-width="0.8"/>
<text x="63.41" y="306.1" font-size="6.3" font-weight="bold" text-anchor="middle" fill="#141414" stroke="#141414" stroke-width="0.26" >120</text>
<line x1="68.69" y1="295.4" x2="68.69" y2="297.4" stroke="#333333" stroke-width="0.8"/>
<line x1="73.96" y1="295.4" x2="73.96" y2="297.4" stroke="#333333" stroke-width="0.8"/>
<line x1="79.24" y1="295.4" x2="79.24" y2="298.4" stroke="#333333" stroke-width="0.8"/>
<text x="79.24" y="306.1" font-size="6.3" font-weight="bold" text-anchor="middle" fill="#141414" stroke="#141414" stroke-width="0.26" >180</text>
<line x1="84.52" y1="295.4" x2="84.52" y2="297.4" stroke="#333333" stroke-width="0.8"/>
<line x1="89.79" y1="295.4" x2="89.79" y2="297.4" stroke="#333333" stroke-width="0.8"/>
<line x1="95.07" y1="295.4" x2="95.07" y2="298.4" stroke="#333333" stroke-width="0.8"/>
<text x="95.07" y="306.1" font-size="6.3" font-weight="bold" text-anchor="middle" fill="#141414" stroke="#141414" stroke-width="0.26" >240</text>
<line x1="100.35" y1="295.4" x2="100.35" y2="297.4" stroke="#333333" stroke-width="0.8"/>
<line x1="105.62" y1="295.4" x2="105.62" y2="297.4" stroke="#333333" stroke-width="0.8"/>
<line x1="110.9" y1="295.4" x2="110.9" y2="298.4" stroke="#333333" stroke-width="0.8"/>
<text x="110.9" y="306.1" font-size="6.3" font-weight="bold" text-anchor="middle" fill="#141414" stroke="#141414" stroke-width="0.26" >300</text>
<text x="71.33" y="314.9" font-size="6.4" font-weight="bold" text-anchor="middle" fill="#141414" stroke="#141414" stroke-width="0.26" >Time (s)</text>
<text transform="translate(16,255.2) rotate(-90)" font-size="6.3" font-weight="bold" text-anchor="middle" fill="#141414" stroke="#141414" stroke-width="0.26">I<tspan font-size="4.3" dy="1.3">M</tspan><tspan dy="-1.3"> (µA)</tspan></text>
<rect x="46.95" y="204.1" width="55.1" height="8.5" fill="#dedede"/>
<rect x="32.35" y="204.1" width="69.7" height="8.5" fill="none" stroke="#444" stroke-width="0.9"/>
<line x1="46.95" y1="204.1" x2="46.95" y2="212.6" stroke="#555" stroke-width="1.1"/>
<text x="39.66" y="210.75" font-size="6.8" font-weight="bold" text-anchor="middle" fill="#141414" stroke="#141414" stroke-width="0.26" >1</text>
<text x="71.33" y="210.75" font-size="6.8" font-weight="bold" text-anchor="middle" fill="#141414" stroke="#141414" stroke-width="0.26" >90</text>
<rect x="95.05" y="195" width="7.4" height="8.4" fill="#000"/>
<text x="97" y="201.4" font-size="6.6" font-weight="bold" text-anchor="start" fill="#fff" stroke="#fff" stroke-width="0.26" stroke-opacity="0" style="text-rendering:auto">a</text>
<path d="M31.9,216.2 C31.95,216.72 31.93,219.2 32.2,219.3 C32.47,219.4 33.03,217.27 33.5,216.8 C33.97,216.33 32.9,216.55 35,216.5 C37.1,216.45 44.25,216.5 46.1,216.5" fill="none" stroke="#f05ef2" stroke-width="1.4" stroke-linejoin="round" stroke-linecap="round" />
<path d="M46.1,216.5 C46.25,217.42 46.75,219.42 47,222 C47.25,224.58 47.37,227.33 47.6,232 C47.83,236.67 48.13,245.17 48.4,250 C48.67,254.83 48.95,258.57 49.2,261 C49.45,263.43 49.6,264.18 49.9,264.6 C50.2,265.02 50.32,265.02 51,263.5 C51.68,261.98 52.73,258.33 54,255.5 C55.27,252.67 57.05,248.75 58.6,246.5 C60.15,244.25 62.07,243.02 63.3,242 C64.53,240.98 64.75,240.85 66,240.4 C67.25,239.95 68.47,239.67 70.8,239.3 C73.13,238.93 75.88,238.7 80,238.2 C84.12,237.7 92.92,236.62 95.5,236.3" fill="none" stroke="#f05ef2" stroke-width="1.4" stroke-linejoin="round" stroke-linecap="round" />
<path d="M95.5,236.3 C95.55,234.58 95.7,228.8 95.8,226 C95.9,223.2 95.9,220.97 96.1,219.5 C96.3,218.03 96.58,217.68 97,217.2 C97.42,216.72 97.7,216.7 98.6,216.6 C99.5,216.5 101.77,216.6 102.4,216.6" fill="none" stroke="#f05ef2" stroke-width="1.4" stroke-linejoin="round" stroke-linecap="round" />
<circle cx="102.4" cy="219" r="0.5" fill="#f05ef2"/>
<line x1="136" y1="238.47" x2="215.2" y2="238.47" stroke="#8c8c8c" stroke-width="0.8" stroke-dasharray="1.9,1.0"/>
<path d="M136,215.7 L136,295.4 L215.2,295.4" fill="none" stroke="#333333" stroke-width="1.3"/>
<line x1="133" y1="215.7" x2="136" y2="215.7" stroke="#333333" stroke-width="0.9"/>
<text x="131.1" y="218" font-size="6.3" font-weight="bold" text-anchor="end" fill="#141414" stroke="#141414" stroke-width="0.26" >2</text>
<line x1="133" y1="238.47" x2="136" y2="238.47" stroke="#333333" stroke-width="0.9"/>
<text x="131.1" y="240.77" font-size="6.3" font-weight="bold" text-anchor="end" fill="#141414" stroke="#141414" stroke-width="0.26" >0</text>
<line x1="133" y1="261.24" x2="136" y2="261.24" stroke="#333333" stroke-width="0.9"/>
<text x="131.1" y="263.54" font-size="6.3" font-weight="bold" text-anchor="end" fill="#141414" stroke="#141414" stroke-width="0.26" >−2</text>
<line x1="133" y1="284.01" x2="136" y2="284.01" stroke="#333333" stroke-width="0.9"/>
<text x="131.1" y="286.31" font-size="6.3" font-weight="bold" text-anchor="end" fill="#141414" stroke="#141414" stroke-width="0.26" >−4</text>
<line x1="136" y1="295.4" x2="136" y2="298.4" stroke="#333333" stroke-width="0.8"/>
<text x="136" y="306.1" font-size="6.3" font-weight="bold" text-anchor="middle" fill="#141414" stroke="#141414" stroke-width="0.26" >0</text>
<line x1="141.28" y1="295.4" x2="141.28" y2="297.4" stroke="#333333" stroke-width="0.8"/>
<line x1="146.56" y1="295.4" x2="146.56" y2="297.4" stroke="#333333" stroke-width="0.8"/>
<line x1="151.84" y1="295.4" x2="151.84" y2="298.4" stroke="#333333" stroke-width="0.8"/>
<text x="151.84" y="306.1" font-size="6.3" font-weight="bold" text-anchor="middle" fill="#141414" stroke="#141414" stroke-width="0.26" >60</text>
<line x1="157.12" y1="295.4" x2="157.12" y2="297.4" stroke="#333333" stroke-width="0.8"/>
<line x1="162.4" y1="295.4" x2="162.4" y2="297.4" stroke="#333333" stroke-width="0.8"/>
<line x1="167.68" y1="295.4" x2="167.68" y2="298.4" stroke="#333333" stroke-width="0.8"/>
<text x="167.68" y="306.1" font-size="6.3" font-weight="bold" text-anchor="middle" fill="#141414" stroke="#141414" stroke-width="0.26" >120</text>
<line x1="172.96" y1="295.4" x2="172.96" y2="297.4" stroke="#333333" stroke-width="0.8"/>
<line x1="178.24" y1="295.4" x2="178.24" y2="297.4" stroke="#333333" stroke-width="0.8"/>
<line x1="183.52" y1="295.4" x2="183.52" y2="298.4" stroke="#333333" stroke-width="0.8"/>
<text x="183.52" y="306.1" font-size="6.3" font-weight="bold" text-anchor="middle" fill="#141414" stroke="#141414" stroke-width="0.26" >180</text>
<line x1="188.8" y1="295.4" x2="188.8" y2="297.4" stroke="#333333" stroke-width="0.8"/>
<line x1="194.08" y1="295.4" x2="194.08" y2="297.4" stroke="#333333" stroke-width="0.8"/>
<line x1="199.36" y1="295.4" x2="199.36" y2="298.4" stroke="#333333" stroke-width="0.8"/>
<text x="199.36" y="306.1" font-size="6.3" font-weight="bold" text-anchor="middle" fill="#141414" stroke="#141414" stroke-width="0.26" >240</text>
<line x1="204.64" y1="295.4" x2="204.64" y2="297.4" stroke="#333333" stroke-width="0.8"/>
<line x1="209.92" y1="295.4" x2="209.92" y2="297.4" stroke="#333333" stroke-width="0.8"/>
<line x1="215.2" y1="295.4" x2="215.2" y2="298.4" stroke="#333333" stroke-width="0.8"/>
<text x="215.2" y="306.1" font-size="6.3" font-weight="bold" text-anchor="middle" fill="#141414" stroke="#141414" stroke-width="0.26" >300</text>
<text x="175.6" y="314.9" font-size="6.4" font-weight="bold" text-anchor="middle" fill="#141414" stroke="#141414" stroke-width="0.26" >Time (s)</text>
<text transform="translate(120.4,255.05) rotate(-90)" font-size="6.3" font-weight="bold" text-anchor="middle" fill="#141414" stroke="#141414" stroke-width="0.26">I<tspan font-size="4.3" dy="1.3">M</tspan><tspan dy="-1.3"> (µA)</tspan></text>
<rect x="151.2" y="204.1" width="55.1" height="8.5" fill="#dedede"/>
<rect x="136.6" y="204.1" width="69.7" height="8.5" fill="none" stroke="#444" stroke-width="0.9"/>
<line x1="151.2" y1="204.1" x2="151.2" y2="212.6" stroke="#555" stroke-width="1.1"/>
<text x="143.92" y="210.75" font-size="6.8" font-weight="bold" text-anchor="middle" fill="#141414" stroke="#141414" stroke-width="0.26" >1</text>
<text x="175.6" y="210.75" font-size="6.8" font-weight="bold" text-anchor="middle" fill="#141414" stroke="#141414" stroke-width="0.26" >90</text>
<rect x="199.3" y="195" width="7.4" height="8.4" fill="#000"/>
<text x="201" y="201.4" font-size="6.6" font-weight="bold" text-anchor="start" fill="#fff" stroke="#fff" stroke-width="0.26" stroke-opacity="0" style="text-rendering:auto">a</text>
<path d="M152,239 C152.17,240.17 152.58,244.07 153,246 C153.42,247.93 154.03,249.73 154.5,250.6 C154.97,251.47 155.3,251.37 155.8,251.2 C156.3,251.03 156.8,250.23 157.5,249.6 C158.2,248.97 158.75,248.07 160,247.4 C161.25,246.73 163.33,246.05 165,245.6 C166.67,245.15 166.67,245.08 170,244.7 C173.33,244.32 180.1,243.62 185,243.3 C189.9,242.98 197,242.88 199.4,242.8 L199.4,260.8 C197.5,260.82 190.9,260.73 188,260.9 C185.1,261.07 184.32,261.33 182,261.8 C179.68,262.27 176.5,262.95 174.1,263.7 C171.7,264.45 169.55,265.32 167.6,266.3 C165.65,267.28 163.7,268.28 162.4,269.6 C161.1,270.92 160.67,272.23 159.8,274.2 C158.93,276.17 157.92,279.52 157.2,281.4 C156.48,283.28 156.05,284.3 155.5,285.5 C154.95,286.7 154.37,289.85 153.9,288.6 C153.43,287.35 152.97,282.77 152.7,278 C152.43,273.23 152.42,266.5 152.3,260 C152.18,253.5 152.05,242.5 152,239 Z" fill="#eed5f5" stroke="none"/>
<path d="M199.6,239.6 L206,237.6 L206,239.5 L199.6,242 Z" fill="#eed5f5" stroke="none"/>
<path d="M152,239 C152.17,240.17 152.58,244.07 153,246 C153.42,247.93 154.03,249.73 154.5,250.6 C154.97,251.47 155.3,251.37 155.8,251.2 C156.3,251.03 156.8,250.23 157.5,249.6 C158.2,248.97 158.75,248.07 160,247.4 C161.25,246.73 163.33,246.05 165,245.6 C166.67,245.15 166.67,245.08 170,244.7 C173.33,244.32 180.1,243.62 185,243.3 C189.9,242.98 197,242.88 199.4,242.8" fill="none" stroke="#f05ef2" stroke-width="0.8" stroke-linejoin="round" stroke-linecap="round" />
<path d="M152,239 C152.05,242.5 152.18,253.5 152.3,260 C152.42,266.5 152.43,273.23 152.7,278 C152.97,282.77 153.43,287.35 153.9,288.6 C154.37,289.85 154.95,286.7 155.5,285.5 C156.05,284.3 156.48,283.28 157.2,281.4 C157.92,279.52 158.93,276.17 159.8,274.2 C160.67,272.23 161.1,270.92 162.4,269.6 C163.7,268.28 165.65,267.28 167.6,266.3 C169.55,265.32 171.7,264.45 174.1,263.7 C176.5,262.95 179.68,262.27 182,261.8 C184.32,261.33 185.1,261.07 188,260.9 C190.9,260.73 197.5,260.82 199.4,260.8" fill="none" stroke="#f05ef2" stroke-width="0.8" stroke-linejoin="round" stroke-linecap="round" />
<path d="M138,238.9 L151.5,238.9" fill="none" stroke="#f05ef2" stroke-width="1.6" stroke-linejoin="round" stroke-linecap="round" />
<path d="M151.5,238.9 C151.63,240.42 152.02,244.15 152.3,248 C152.58,251.85 152.83,258.62 153.2,262 C153.57,265.38 153.95,267.5 154.5,268.3 C155.05,269.1 155.83,267.45 156.5,266.8 C157.17,266.15 157.52,265.57 158.5,264.4 C159.48,263.23 160.88,261.12 162.4,259.8 C163.92,258.48 165.65,257.37 167.6,256.5 C169.55,255.63 171.7,255.13 174.1,254.6 C176.5,254.07 179.35,253.68 182,253.3 C184.65,252.92 187.1,252.65 190,252.3 C192.9,251.95 197.83,251.38 199.4,251.2" fill="none" stroke="#f05ef2" stroke-width="1.6" stroke-linejoin="round" stroke-linecap="round" />
<path d="M199.5,260.8 L199.5,240" fill="none" stroke="#f05ef2" stroke-width="0.9" stroke-linejoin="round" stroke-linecap="round" />
<path d="M199.5,241 C199.67,240.63 200.08,239.33 200.5,238.8 C200.92,238.27 201.08,238 202,237.8 C202.92,237.6 205.33,237.63 206,237.6" fill="none" stroke="#f05ef2" stroke-width="0.9" stroke-linejoin="round" stroke-linecap="round" />
<path d="M206,237.6 L206,249" fill="none" stroke="#f05ef2" stroke-width="0.7" stroke-linejoin="round" stroke-linecap="round" />
<path d="M137.5,216 L138.2,226 L138.2,262" fill="none" stroke="#f05ef2" stroke-width="1.2" stroke-linejoin="round" stroke-linecap="round" />
<path d="M138.2,262 L138.2,276" fill="none" stroke="#f05ef2" stroke-width="0.9" stroke-linejoin="round" stroke-linecap="round" opacity="0.7"/>
<path d="M137.6,236 L139.5,238.5 L137.6,241" fill="none" stroke="#f05ef2" stroke-width="0.8" stroke-linejoin="round" stroke-linecap="round" />
<line x1="261.8" y1="229.4" x2="340.6" y2="229.4" stroke="#8c8c8c" stroke-width="0.8" stroke-dasharray="1.9,1.0"/>
<path d="M261.8,216.2 L261.8,295.4 L340.6,295.4" fill="none" stroke="#333333" stroke-width="1.3"/>
<line x1="258.8" y1="216.2" x2="261.8" y2="216.2" stroke="#333333" stroke-width="0.9"/>
<text x="256.9" y="218.5" font-size="6.3" font-weight="bold" text-anchor="end" fill="#141414" stroke="#141414" stroke-width="0.26" >2</text>
<line x1="258.8" y1="229.4" x2="261.8" y2="229.4" stroke="#333333" stroke-width="0.9"/>
<text x="256.9" y="231.7" font-size="6.3" font-weight="bold" text-anchor="end" fill="#141414" stroke="#141414" stroke-width="0.26" >0</text>
<line x1="258.8" y1="242.6" x2="261.8" y2="242.6" stroke="#333333" stroke-width="0.9"/>
<text x="256.9" y="244.9" font-size="6.3" font-weight="bold" text-anchor="end" fill="#141414" stroke="#141414" stroke-width="0.26" >−2</text>
<line x1="258.8" y1="255.8" x2="261.8" y2="255.8" stroke="#333333" stroke-width="0.9"/>
<text x="256.9" y="258.1" font-size="6.3" font-weight="bold" text-anchor="end" fill="#141414" stroke="#141414" stroke-width="0.26" >−4</text>
<line x1="258.8" y1="269" x2="261.8" y2="269" stroke="#333333" stroke-width="0.9"/>
<text x="256.9" y="271.3" font-size="6.3" font-weight="bold" text-anchor="end" fill="#141414" stroke="#141414" stroke-width="0.26" >−6</text>
<line x1="258.8" y1="282.2" x2="261.8" y2="282.2" stroke="#333333" stroke-width="0.9"/>
<text x="256.9" y="284.5" font-size="6.3" font-weight="bold" text-anchor="end" fill="#141414" stroke="#141414" stroke-width="0.26" >−8</text>
<line x1="258.8" y1="295.4" x2="261.8" y2="295.4" stroke="#333333" stroke-width="0.9"/>
<text x="256.9" y="297.7" font-size="6.3" font-weight="bold" text-anchor="end" fill="#141414" stroke="#141414" stroke-width="0.26" >−10</text>
<line x1="261.8" y1="295.4" x2="261.8" y2="298.4" stroke="#333333" stroke-width="0.8"/>
<text x="261.8" y="306.1" font-size="6.3" font-weight="bold" text-anchor="middle" fill="#141414" stroke="#141414" stroke-width="0.26" >0</text>
<line x1="267.05" y1="295.4" x2="267.05" y2="297.4" stroke="#333333" stroke-width="0.8"/>
<line x1="272.31" y1="295.4" x2="272.31" y2="297.4" stroke="#333333" stroke-width="0.8"/>
<line x1="277.56" y1="295.4" x2="277.56" y2="298.4" stroke="#333333" stroke-width="0.8"/>
<text x="277.56" y="306.1" font-size="6.3" font-weight="bold" text-anchor="middle" fill="#141414" stroke="#141414" stroke-width="0.26" >60</text>
<line x1="282.81" y1="295.4" x2="282.81" y2="297.4" stroke="#333333" stroke-width="0.8"/>
<line x1="288.07" y1="295.4" x2="288.07" y2="297.4" stroke="#333333" stroke-width="0.8"/>
<line x1="293.32" y1="295.4" x2="293.32" y2="298.4" stroke="#333333" stroke-width="0.8"/>
<text x="293.32" y="306.1" font-size="6.3" font-weight="bold" text-anchor="middle" fill="#141414" stroke="#141414" stroke-width="0.26" >120</text>
<line x1="298.57" y1="295.4" x2="298.57" y2="297.4" stroke="#333333" stroke-width="0.8"/>
<line x1="303.83" y1="295.4" x2="303.83" y2="297.4" stroke="#333333" stroke-width="0.8"/>
<line x1="309.08" y1="295.4" x2="309.08" y2="298.4" stroke="#333333" stroke-width="0.8"/>
<text x="309.08" y="306.1" font-size="6.3" font-weight="bold" text-anchor="middle" fill="#141414" stroke="#141414" stroke-width="0.26" >180</text>
<line x1="314.33" y1="295.4" x2="314.33" y2="297.4" stroke="#333333" stroke-width="0.8"/>
<line x1="319.59" y1="295.4" x2="319.59" y2="297.4" stroke="#333333" stroke-width="0.8"/>
<line x1="324.84" y1="295.4" x2="324.84" y2="298.4" stroke="#333333" stroke-width="0.8"/>
<text x="324.84" y="306.1" font-size="6.3" font-weight="bold" text-anchor="middle" fill="#141414" stroke="#141414" stroke-width="0.26" >240</text>
<line x1="330.09" y1="295.4" x2="330.09" y2="297.4" stroke="#333333" stroke-width="0.8"/>
<line x1="335.35" y1="295.4" x2="335.35" y2="297.4" stroke="#333333" stroke-width="0.8"/>
<line x1="340.6" y1="295.4" x2="340.6" y2="298.4" stroke="#333333" stroke-width="0.8"/>
<text x="340.6" y="306.1" font-size="6.3" font-weight="bold" text-anchor="middle" fill="#141414" stroke="#141414" stroke-width="0.26" >300</text>
<text x="301.2" y="314.9" font-size="6.4" font-weight="bold" text-anchor="middle" fill="#141414" stroke="#141414" stroke-width="0.26" >Time (s)</text>
<text transform="translate(243.9,255.3) rotate(-90)" font-size="6.3" font-weight="bold" text-anchor="middle" fill="#141414" stroke="#141414" stroke-width="0.26">I<tspan font-size="4.3" dy="1.3">M</tspan><tspan dy="-1.3"> (µA)</tspan></text>
<rect x="277" y="204.1" width="55.1" height="8.5" fill="#dedede"/>
<rect x="262.4" y="204.1" width="69.7" height="8.5" fill="none" stroke="#444" stroke-width="0.9"/>
<line x1="277" y1="204.1" x2="277" y2="212.6" stroke="#555" stroke-width="1.1"/>
<text x="269.68" y="210.75" font-size="6.8" font-weight="bold" text-anchor="middle" fill="#141414" stroke="#141414" stroke-width="0.26" >1</text>
<text x="301.2" y="210.75" font-size="6.8" font-weight="bold" text-anchor="middle" fill="#141414" stroke="#141414" stroke-width="0.26" >90</text>
<rect x="325.1" y="195" width="7.4" height="8.4" fill="#000"/>
<text x="327" y="201.4" font-size="6.6" font-weight="bold" text-anchor="start" fill="#fff" stroke="#fff" stroke-width="0.26" stroke-opacity="0" style="text-rendering:auto">a</text>
<path d="M262.6,234.9 C262.75,234.28 263.1,232.23 263.5,231.2 C263.9,230.17 264.25,229.32 265,228.7 C265.75,228.08 266.83,227.82 268,227.5 C269.17,227.18 270.67,226.95 272,226.8 C273.33,226.65 275.15,226.6 276,226.6 C276.85,226.6 276.92,226.77 277.1,226.8" fill="none" stroke="#a02aa8" stroke-width="1.4" stroke-linejoin="round" stroke-linecap="round" />
<path d="M277.2,226.8 C277.23,228.17 277.33,230.3 277.4,235 C277.47,239.7 277.48,249.58 277.6,255 C277.72,260.42 277.87,263.97 278.1,267.5 C278.33,271.03 278.48,273.92 279,276.2 C279.52,278.48 280.32,279.85 281.2,281.2 C282.08,282.55 283.27,283.6 284.3,284.3 C285.33,285 285.62,285.18 287.4,285.4 C289.18,285.62 292.07,285.6 295,285.6 C297.93,285.6 300.07,285.68 305,285.4 C309.93,285.12 321.33,284.15 324.6,283.9" fill="none" stroke="#a02aa8" stroke-width="1.4" stroke-linejoin="round" stroke-linecap="round" />
<path d="M324.8,283.9 C324.83,279.92 324.92,268.15 325,260 C325.08,251.85 325.1,239.8 325.3,235 C325.5,230.2 325.83,232.03 326.2,231.2 C326.57,230.37 326.45,230.28 327.5,230 C328.55,229.72 331.67,229.58 332.5,229.5" fill="none" stroke="#a02aa8" stroke-width="1.4" stroke-linejoin="round" stroke-linecap="round" />
<line x1="368.5" y1="235.85" x2="447" y2="235.85" stroke="#8c8c8c" stroke-width="0.8" stroke-dasharray="1.9,1.0"/>
<path d="M368.5,216 L368.5,295.4 L447,295.4" fill="none" stroke="#333333" stroke-width="1.3"/>
<line x1="365.5" y1="216" x2="368.5" y2="216" stroke="#333333" stroke-width="0.9"/>
<text x="363.6" y="218.3" font-size="6.3" font-weight="bold" text-anchor="end" fill="#141414" stroke="#141414" stroke-width="0.26" >5</text>
<line x1="365.5" y1="235.85" x2="368.5" y2="235.85" stroke="#333333" stroke-width="0.9"/>
<text x="363.6" y="238.15" font-size="6.3" font-weight="bold" text-anchor="end" fill="#141414" stroke="#141414" stroke-width="0.26" >0</text>
<line x1="365.5" y1="255.7" x2="368.5" y2="255.7" stroke="#333333" stroke-width="0.9"/>
<text x="363.6" y="258" font-size="6.3" font-weight="bold" text-anchor="end" fill="#141414" stroke="#141414" stroke-width="0.26" >−5</text>
<line x1="365.5" y1="275.55" x2="368.5" y2="275.55" stroke="#333333" stroke-width="0.9"/>
<text x="363.6" y="277.85" font-size="6.3" font-weight="bold" text-anchor="end" fill="#141414" stroke="#141414" stroke-width="0.26" >−10</text>
<line x1="365.5" y1="295.4" x2="368.5" y2="295.4" stroke="#333333" stroke-width="0.9"/>
<text x="363.6" y="297.7" font-size="6.3" font-weight="bold" text-anchor="end" fill="#141414" stroke="#141414" stroke-width="0.26" >−15</text>
<line x1="368.5" y1="295.4" x2="368.5" y2="298.4" stroke="#333333" stroke-width="0.8"/>
<text x="368.5" y="306.1" font-size="6.3" font-weight="bold" text-anchor="middle" fill="#141414" stroke="#141414" stroke-width="0.26" >0</text>
<line x1="373.73" y1="295.4" x2="373.73" y2="297.4" stroke="#333333" stroke-width="0.8"/>
<line x1="378.97" y1="295.4" x2="378.97" y2="297.4" stroke="#333333" stroke-width="0.8"/>
<line x1="384.2" y1="295.4" x2="384.2" y2="298.4" stroke="#333333" stroke-width="0.8"/>
<text x="384.2" y="306.1" font-size="6.3" font-weight="bold" text-anchor="middle" fill="#141414" stroke="#141414" stroke-width="0.26" >60</text>
<line x1="389.43" y1="295.4" x2="389.43" y2="297.4" stroke="#333333" stroke-width="0.8"/>
<line x1="394.67" y1="295.4" x2="394.67" y2="297.4" stroke="#333333" stroke-width="0.8"/>
<line x1="399.9" y1="295.4" x2="399.9" y2="298.4" stroke="#333333" stroke-width="0.8"/>
<text x="399.9" y="306.1" font-size="6.3" font-weight="bold" text-anchor="middle" fill="#141414" stroke="#141414" stroke-width="0.26" >120</text>
<line x1="405.13" y1="295.4" x2="405.13" y2="297.4" stroke="#333333" stroke-width="0.8"/>
<line x1="410.37" y1="295.4" x2="410.37" y2="297.4" stroke="#333333" stroke-width="0.8"/>
<line x1="415.6" y1="295.4" x2="415.6" y2="298.4" stroke="#333333" stroke-width="0.8"/>
<text x="415.6" y="306.1" font-size="6.3" font-weight="bold" text-anchor="middle" fill="#141414" stroke="#141414" stroke-width="0.26" >180</text>
<line x1="420.83" y1="295.4" x2="420.83" y2="297.4" stroke="#333333" stroke-width="0.8"/>
<line x1="426.07" y1="295.4" x2="426.07" y2="297.4" stroke="#333333" stroke-width="0.8"/>
<line x1="431.3" y1="295.4" x2="431.3" y2="298.4" stroke="#333333" stroke-width="0.8"/>
<text x="431.3" y="306.1" font-size="6.3" font-weight="bold" text-anchor="middle" fill="#141414" stroke="#141414" stroke-width="0.26" >240</text>
<line x1="436.53" y1="295.4" x2="436.53" y2="297.4" stroke="#333333" stroke-width="0.8"/>
<line x1="441.77" y1="295.4" x2="441.77" y2="297.4" stroke="#333333" stroke-width="0.8"/>
<line x1="447" y1="295.4" x2="447" y2="298.4" stroke="#333333" stroke-width="0.8"/>
<text x="447" y="306.1" font-size="6.3" font-weight="bold" text-anchor="middle" fill="#141414" stroke="#141414" stroke-width="0.26" >300</text>
<text x="407.75" y="314.9" font-size="6.4" font-weight="bold" text-anchor="middle" fill="#141414" stroke="#141414" stroke-width="0.26" >Time (s)</text>
<text transform="translate(350.7,255.2) rotate(-90)" font-size="6.3" font-weight="bold" text-anchor="middle" fill="#141414" stroke="#141414" stroke-width="0.26">I<tspan font-size="4.3" dy="1.3">M</tspan><tspan dy="-1.3"> (µA)</tspan></text>
<rect x="383.7" y="204.1" width="55.1" height="8.5" fill="#dedede"/>
<rect x="369.1" y="204.1" width="69.7" height="8.5" fill="none" stroke="#444" stroke-width="0.9"/>
<line x1="383.7" y1="204.1" x2="383.7" y2="212.6" stroke="#555" stroke-width="1.1"/>
<text x="376.35" y="210.75" font-size="6.8" font-weight="bold" text-anchor="middle" fill="#141414" stroke="#141414" stroke-width="0.26" >1</text>
<text x="407.75" y="210.75" font-size="6.8" font-weight="bold" text-anchor="middle" fill="#141414" stroke="#141414" stroke-width="0.26" >90</text>
<rect x="431.8" y="195" width="7.4" height="8.4" fill="#000"/>
<text x="434" y="201.4" font-size="6.6" font-weight="bold" text-anchor="start" fill="#fff" stroke="#fff" stroke-width="0.26" stroke-opacity="0" style="text-rendering:auto">a</text>
<path d="M383.7,236.3 C383.78,237 383.93,239.45 384.2,240.5 C384.47,241.55 384.83,242.12 385.3,242.6 C385.77,243.08 386.22,243.22 387,243.4 C387.78,243.58 382.43,243.68 390,243.7 C397.57,243.72 425.33,243.53 432.4,243.5 L432.4,274.6 C427,274.73 406.57,275.3 400,275.4 C393.43,275.5 394.67,275.4 393,275.2 C391.33,275 391,274.82 390,274.2 C389,273.58 387.8,272.87 387,271.5 C386.2,270.13 385.65,268.75 385.2,266 C384.75,263.25 384.55,259.95 384.3,255 C384.05,250.05 383.8,239.42 383.7,236.3 Z" fill="#eacbee" stroke="none"/>
<path d="M383.7,236.3 C383.78,237 383.93,239.45 384.2,240.5 C384.47,241.55 384.83,242.12 385.3,242.6 C385.77,243.08 386.22,243.22 387,243.4 C387.78,243.58 382.43,243.68 390,243.7 C397.57,243.72 425.33,243.53 432.4,243.5" fill="none" stroke="#a02aa8" stroke-width="0.8" stroke-linejoin="round" stroke-linecap="round" />
<path d="M383.7,236.3 C383.8,239.42 384.05,250.05 384.3,255 C384.55,259.95 384.75,263.25 385.2,266 C385.65,268.75 386.2,270.13 387,271.5 C387.8,272.87 389,273.58 390,274.2 C391,274.82 391.33,275 393,275.2 C394.67,275.4 393.43,275.5 400,275.4 C406.57,275.3 427,274.73 432.4,274.6" fill="none" stroke="#a02aa8" stroke-width="0.8" stroke-linejoin="round" stroke-linecap="round" />
<path d="M369,236.9 C369.33,236.82 369.83,236.5 371,236.4 C372.17,236.3 373.92,236.32 376,236.3 C378.08,236.28 382.25,236.3 383.5,236.3" fill="none" stroke="#a02aa8" stroke-width="1.4" stroke-linejoin="round" stroke-linecap="round" />
<path d="M383.5,236.3 C383.6,237.75 383.92,242.05 384.1,245 C384.28,247.95 384.37,251.92 384.6,254 C384.83,256.08 385.1,256.68 385.5,257.5 C385.9,258.32 386.33,258.55 387,258.9 C387.67,259.25 388.17,259.42 389.5,259.6 C390.83,259.78 391.58,259.95 395,260 C398.42,260.05 403.77,260.03 410,259.9 C416.23,259.77 428.67,259.32 432.4,259.2" fill="none" stroke="#a02aa8" stroke-width="1.4" stroke-linejoin="round" stroke-linecap="round" />
<path d="M432.6,274.6 L432.6,235.5" fill="none" stroke="#a02aa8" stroke-width="0.9" stroke-linejoin="round" stroke-linecap="round" />
<path d="M432.5,234.6 L439,234.6 L439,237.5 L432.5,238.5 Z" fill="#eacbee" stroke="none"/>
<path d="M432.5,234.6 L439,234.6 L439,237.5 L432.5,238.5" fill="none" stroke="#a02aa8" stroke-width="0.6" stroke-linejoin="round" stroke-linecap="round" />
<path d="M432.5,236.5 L439,236" fill="none" stroke="#a02aa8" stroke-width="1.1" stroke-linejoin="round" stroke-linecap="round" />
<path d="M492.1,215.6 L492.1,295.2 L545,295.2" fill="none" stroke="#333333" stroke-width="1.1"/>
<line x1="489.1" y1="215.6" x2="492.1" y2="215.6" stroke="#333333" stroke-width="0.9"/>
<text x="487.9" y="217.9" font-size="6.3" font-weight="bold" text-anchor="end" fill="#141414" stroke="#141414" stroke-width="0.26" >100</text>
<line x1="489.1" y1="228.87" x2="492.1" y2="228.87" stroke="#333333" stroke-width="0.9"/>
<text x="487.9" y="231.17" font-size="6.3" font-weight="bold" text-anchor="end" fill="#141414" stroke="#141414" stroke-width="0.26" >80</text>
<line x1="489.1" y1="242.13" x2="492.1" y2="242.13" stroke="#333333" stroke-width="0.9"/>
<text x="487.9" y="244.43" font-size="6.3" font-weight="bold" text-anchor="end" fill="#141414" stroke="#141414" stroke-width="0.26" >60</text>
<line x1="489.1" y1="255.4" x2="492.1" y2="255.4" stroke="#333333" stroke-width="0.9"/>
<text x="487.9" y="257.7" font-size="6.3" font-weight="bold" text-anchor="end" fill="#141414" stroke="#141414" stroke-width="0.26" >40</text>
<line x1="489.1" y1="268.67" x2="492.1" y2="268.67" stroke="#333333" stroke-width="0.9"/>
<text x="487.9" y="270.97" font-size="6.3" font-weight="bold" text-anchor="end" fill="#141414" stroke="#141414" stroke-width="0.26" >20</text>
<line x1="489.1" y1="281.93" x2="492.1" y2="281.93" stroke="#333333" stroke-width="0.9"/>
<text x="487.9" y="284.23" font-size="6.3" font-weight="bold" text-anchor="end" fill="#141414" stroke="#141414" stroke-width="0.26" >0</text>
<line x1="489.1" y1="295.2" x2="492.1" y2="295.2" stroke="#333333" stroke-width="0.9"/>
<text x="487.9" y="297.5" font-size="6.3" font-weight="bold" text-anchor="end" fill="#141414" stroke="#141414" stroke-width="0.26" >−20</text>
<line x1="507.3" y1="295.2" x2="507.3" y2="298" stroke="#333333" stroke-width="0.8"/>
<line x1="529.9" y1="295.2" x2="529.9" y2="298" stroke="#333333" stroke-width="0.8"/>
<text x="507.3" y="305" font-size="6.2" font-weight="bold" text-anchor="middle" fill="#141414" stroke="#141414" stroke-width="0.26" >αβγ</text>
<text x="529.9" y="305" font-size="6.2" font-weight="bold" text-anchor="middle" fill="#141414" stroke="#141414" stroke-width="0.26" >δβγ</text>
<text transform="translate(473.4,255.4) rotate(-90)" font-size="6.4" font-weight="bold" text-anchor="middle" fill="#141414" stroke="#141414" stroke-width="0.26">SSI (%)</text>
<text x="518.6" y="210.8" font-size="6.4" font-weight="normal" text-anchor="middle" fill="#141414" stroke="#141414" stroke-width="0.14" >P &lt; 0.0001</text>
<path d="M507,220 L507,215.3 L530.2,215.3 L530.2,267.6" fill="none" stroke="#333333" stroke-width="0.9"/>
<path d="M507.2,230.5 L507.2,245.1 M503.5,230.5 L511.4,230.5 M503.5,245.1 L511.4,245.1 M500,237.9 L514.9,237.9" fill="none" stroke="#333333" stroke-width="0.9"/>
<circle cx="507.2" cy="224.8" r="1.15" fill="#ff1eff"/>
<circle cx="501" cy="231" r="1.15" fill="#ff1eff"/>
<circle cx="513.9" cy="231" r="1.15" fill="#ff1eff"/>
<circle cx="504.2" cy="232.7" r="1.15" fill="#ff1eff"/>
<circle cx="507.2" cy="232.4" r="1.15" fill="#ff1eff"/>
<circle cx="510.4" cy="232" r="1.15" fill="#ff1eff"/>
<circle cx="504.2" cy="235.9" r="1.15" fill="#ff1eff"/>
<circle cx="507.2" cy="234.9" r="1.15" fill="#ff1eff"/>
<circle cx="510.4" cy="234.9" r="1.15" fill="#ff1eff"/>
<circle cx="507.2" cy="238.4" r="1.15" fill="#ff1eff"/>
<circle cx="504.2" cy="242.4" r="1.15" fill="#ff1eff"/>
<circle cx="507.2" cy="241.9" r="1.15" fill="#ff1eff"/>
<circle cx="510.4" cy="242.4" r="1.15" fill="#ff1eff"/>
<circle cx="502.5" cy="248.4" r="1.15" fill="#ff1eff"/>
<circle cx="505.8" cy="247.4" r="1.15" fill="#ff1eff"/>
<circle cx="509" cy="247.7" r="1.15" fill="#ff1eff"/>
<circle cx="512.1" cy="247.4" r="1.15" fill="#ff1eff"/>
<path d="M530,277 L530,287.9 M526,277 L534,277 M526,287.9 L534,287.9 M522.5,283.1 L537.4,283.1" fill="none" stroke="#333333" stroke-width="0.9"/>
<circle cx="530" cy="272.8" r="1.2" fill="#8e1592"/>
<circle cx="523.5" cy="279" r="1.2" fill="#8e1592"/>
<circle cx="527.8" cy="278.7" r="1.2" fill="#8e1592"/>
<circle cx="532.4" cy="280.4" r="1.2" fill="#8e1592"/>
<circle cx="536.4" cy="279" r="1.2" fill="#8e1592"/>
<circle cx="530" cy="283" r="1.2" fill="#8e1592"/>
<circle cx="536.4" cy="285.4" r="1.2" fill="#8e1592"/>
<circle cx="527.8" cy="287.2" r="1.2" fill="#8e1592"/>
<circle cx="532" cy="287.2" r="1.2" fill="#8e1592"/>
<circle cx="536.4" cy="288.1" r="1.2" fill="#8e1592"/>
<circle cx="530" cy="291.7" r="1.2" fill="#8e1592"/>
</svg></body></html>
